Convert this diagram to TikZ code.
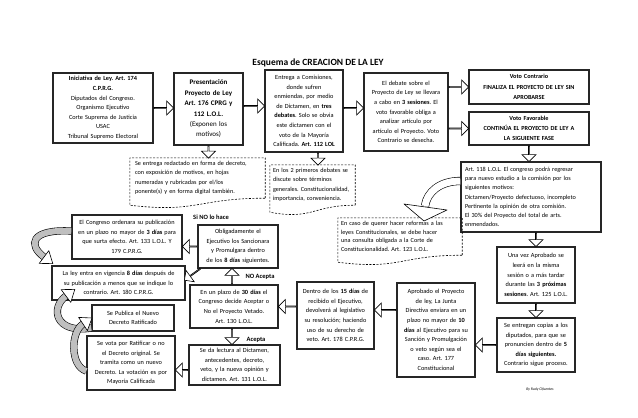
\documentclass[tikz,border=0pt]{standalone}
\usepackage{fontspec}
\setmainfont{Carlito}
\frenchspacing
\usetikzlibrary{shapes.arrows,calc}

\tikzset{
  caja/.style={draw=black!85, line width=1.4pt, fill=white, align=center, inner sep=1pt,
    font=\fontsize{6.3}{9.6}\selectfont},
  tam/.code 2 args={\pgfmathsetmacro\anchocaja{#1-4}%
    \tikzset{minimum width=#1, minimum height=#2, text width=\anchocaja pt}},
  nota/.style={align=left, inner xsep=3pt, inner ysep=1pt, font=\fontsize{6.2}{9.4}\selectfont},
  borde nota/.style={line width=0.6pt, dash pattern=on 2pt off 1.5pt},
  flecha/.style={single arrow, draw, fill=white, line width=0.6pt, inner sep=0pt,
    minimum width=14pt, single arrow head extend=3.5pt},
  curva blanca/.style={double=white, double distance=7pt, line width=0.6pt},
  curva gris/.style={double=black!25, double distance=6pt, line width=0.6pt},
  punta/.style={draw, fill=white, line width=0.6pt, line join=round},
  etiqueta/.style={font=\bfseries\fontsize{6.5}{7}\selectfont, inner sep=1pt},
  titulo/.style={font=\bfseries\fontsize{9.5}{11}\selectfont}
}

% flecha de bloque entre dos puntos
\newcommand\flechabloque[2]{%
  \path let \p1=(#1), \p2=(#2), \n1={atan2(\y2-\y1,\x2-\x1)}, \n2={veclen(\x2-\x1,\y2-\y1)} in
    node[flecha, rotate=\n1, minimum height=\n2, anchor=tail] at (\p1) {};}

% borde de hoja con base ondulada
\newcommand\hojanota[1]{%
  \draw[borde nota] (#1.south east) -- (#1.north east) -- (#1.north west) -- ($(#1.south west)+(0,7)$)
    .. controls ($(#1.south)+(0,15)$) and (#1.south) .. (#1.south east);}

\begin{document}
\begin{tikzpicture}[x=1pt,y=-1pt]
\useasboundingbox (0,0) rectangle (638,418);

\node[titulo] (titulo) at (318,63) {Esquema de CREACION DE LA LEY};

% fila superior
\node[caja, tam={100}{70}] (ini) at (103,108) {\textbf{Iniciativa de Ley. Art. 174}\\\textbf{C.P.R.G.}\\Diputados del Congreso.\\Organismo Ejecutivo\\Corte Suprema de Justicia\\USAC\\Tribunal Supremo Electoral};
\node[caja, tam={69}{72}, font=\fontsize{7}{10.4}\selectfont] (pres) at (208.5,109) {\textbf{Presentación}\\\textbf{Proyecto de Ley}\\\textbf{Art. 176 CPRG y}\\\textbf{112 L.O.L.}\\(Exponen los\\motivos)};
\node[caja, tam={78}{82}] (comis) at (304,111) {Entrega a Comisiones,\\donde sufren\\enmiendas, por medio\\de Dictamen, en \textbf{tres}\\\textbf{debates}. Solo se obvia\\este dictamen con el\\voto de la Mayoría\\Calificada. \textbf{Art. 112 LOL}};
\node[caja, tam={84}{78}] (debate) at (406,112) {El debate sobre el\\Proyecto de Ley se llevara\\a cabo en \textbf{3 sesiones}. El\\voto favorable obliga a\\analizar artículo por\\artículo el Proyecto. Voto\\Contrario se desecha.};
\node[caja, tam={120}{34}, font=\bfseries\fontsize{6.2}{10.3}\selectfont] (contra) at (529,87) {Voto Contrario\\FINALIZA EL PROYECTO DE LEY SIN\\APROBARSE};
\node[caja, tam={120}{33}, font=\bfseries\fontsize{6.2}{10.3}\selectfont] (favor) at (529,128.5) {Voto Favorable\\CONTINÚA EL PROYECTO DE LEY A\\LA SIGUIENTE FASE};

% lado derecho
\node[caja, tam={136}{70}, align=left, inner xsep=4pt, font=\fontsize{6.2}{9.2}\selectfont] (art118) at (531,197) {Art. 118 L.O.L. El congreso podrá regresar\\para nuevo estudio a la comisión por los\\siguientes motivos:\\Dictamen/Proyecto defectuoso, incompleto\\Pertinente la opinión de otra comisión.\\El 30\% del Proyecto del total de arts.\\enmendados.};
\node[caja, tam={78}{56}] (aprob) at (536,275) {Una vez Aprobado se\\leerá en la misma\\sesión o a más tardar\\durante las \textbf{3 próximas}\\\textbf{sesiones}. Art. 125 L.O.L.};
\node[caja, tam={78}{54}] (copias) at (536,345) {Se entregan copias a los\\diputados, para que se\\pronuncien dentro de \textbf{5}\\\textbf{días siguientes.}\\Contrario sigue proceso.};
\node[caja, tam={78}{94}] (junta) at (436,330) {Aprobado el Proyecto\\de ley, La Junta\\Directiva enviara en un\\plazo no mayor de \textbf{10}\\\textbf{días} al Ejecutivo para su\\Sanción y Promulgación\\o veto según sea el\\caso. Art. 177\\Constitucional};
\node[caja, tam={77}{67}] (quince) at (335.5,315.5) {Dentro de los \textbf{15 días} de\\recibido el Ejecutivo,\\devolverá al legislativo\\su resolución; haciendo\\uso de su derecho de\\veto. Art. 178 C.P.R.G.};

% centro e izquierda
\node[caja, tam={88}{43}] (treinta) at (234,306.5) {En un plazo de \textbf{30 días} el\\Congreso decide Aceptar o\\No el Proyecto Vetado.\\Art. 130 L.O.L.};
\node[caja, tam={80}{43}] (oblig) at (238,246.5) {Obligadamente el\\Ejecutivo los Sancionara\\y Promulgara dentro\\de los \textbf{8 días} siguientes.};
\node[caja, tam={91}{40}] (lectura) at (234.5,365) {Se da lectura al Dictamen,\\antecedentes, decreto,\\veto, y la nueva opinión y\\dictamen. Art. 131 L.O.L.};
\node[caja, tam={88}{54}] (ratif) at (131,363) {Se vota por Ratificar o no\\el Decreto original. Se\\tramita como un nuevo\\Decreto. La votación es por\\Mayoría Calificada};
\node[caja, tam={82}{26}] (publica) at (133,318) {Se Publica el Nuevo\\Decreto Ratificado};
\node[caja, tam={133}{34}] (vigencia) at (118.5,283) {La ley entra en vigencia \textbf{8 días} después de\\su publicación a menos que se indique lo\\contrario. Art. 180 C.P.R.G.};
\node[caja, tam={110}{44}] (ordena) at (127,237) {El Congreso ordenara su publicación\\en un plazo no mayor de \textbf{3 días} para\\que surta efecto. Art. 133 L.O.L. Y\\179 C.P.R.G.};

% notas punteadas
\node[nota, minimum width=135, minimum height=40, text width=125pt] (notaA) at (197.5,178) {Se entrega redactado en forma de decreto,\\con exposición de motivos, en hojas\\numeradas y rubricadas por el/los\\ponente(s) y en forma digital también.};
\node[nota, minimum width=85, minimum height=40, text width=79pt] (notaB) at (312.5,185) {En los 2 primeros debates se\\discute sobre términos\\generales. Constitucionalidad,\\importancia, conveniencia.};
\node[nota, minimum width=124, minimum height=37, text width=118pt, font=\fontsize{6.2}{8.6}\selectfont] (notaC) at (400,236.5) {En caso de querer hacer reformas a las\\leyes Constitucionales, se debe hacer\\una consulta obligada a la Corte de\\Constitucionalidad. Art. 123 L.O.L.};
\hojanota{notaA}
\hojanota{notaB}
\hojanota{notaC}

% flechas
\flechabloque{ini.east}{pres.west |- ini.east}
\flechabloque{pres.east |- 0,106}{comis.west |- 0,106}
\flechabloque{comis.east |- 0,108}{debate.west |- 0,108}
\flechabloque{debate.east |- contra.west}{contra.west}
\flechabloque{debate.east |- favor.west}{favor.west}
\flechabloque{pres.south}{notaA.north -| pres.south}
\flechabloque{comis.south -| 318,0}{notaB.north -| 318,0}
\flechabloque{favor.south}{art118.north -| favor.south}
\flechabloque{art118.south -| aprob.north}{aprob.north}
\flechabloque{aprob.south}{copias.north}
\flechabloque{copias.west}{junta.east |- copias.west}
\flechabloque{junta.west |- 0,310}{quince.east |- 0,310}
\flechabloque{quince.west |- treinta.east}{treinta.east}
\flechabloque{treinta.north -| 232,0}{oblig.south -| 232,0}
\flechabloque{treinta.south -| 232,0}{lectura.north -| 232,0}
\flechabloque{lectura.west |- 0,370}{ratif.east |- 0,370}
\flechabloque{oblig.west}{ordena.east |- oblig.west}
\flechabloque{$(oblig.south west)+(3,0)$}{$(vigencia.east)+(-1,-3)$}

% flechas curvas
\coordinate (baseC) at (425,206);
\draw[curva blanca] (art118.west |- 0,181) .. controls (440,181) and (427,192) .. (baseC);
\draw[punta] (404,204) -- (447,210) -- (424,221) -- cycle;

\coordinate (baseV) at (44,257);
\draw[curva gris] (ordena.west |- 0,231) .. controls (30,229) and (28,245) .. (baseV);
\draw[punta] (39.2,263.4) -- (48.8,250.6) -- (52.8,263.6) -- cycle;

\coordinate (baseP) at (66,296);
\draw[curva gris] (publica.west |- 0,328) .. controls (55,334) and (50,308) .. (baseP);
\draw[punta] (70.8,302.4) -- (61.2,289.6) -- (74.8,289.4) -- cycle;

\coordinate (baseR) at (83,324);
\draw[curva gris] (ratif.west |- 0,371) .. controls (70,366) and (70.5,332) .. (baseR);
\draw[punta] (87.4,330.6) -- (78.6,317.4) -- (92,318) -- cycle;

% etiquetas
\node[etiqueta] (sino) at (211,217) {Si NO lo hace};
\node[etiqueta] (noacepta) at (260,277) {NO Acepta};
\node[etiqueta] (acepta) at (256,340) {Acepta};
\node[font=\itshape\fontsize{3.8}{4}\selectfont] (firma) at (540,389) {By Rudy Cifuentes};

\end{tikzpicture}
\end{document}
